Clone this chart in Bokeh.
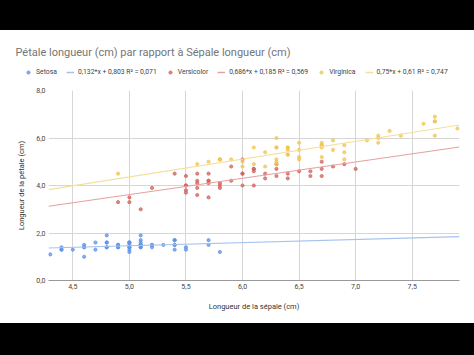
import numpy as np
from bokeh.plotting import figure
from bokeh.models import (Range1d, FixedTicker, CustomJSTickFormatter, Legend,
                          LegendItem, Spacer, Label)
from bokeh.layouts import column
from bokeh.embed import file_html
from bokeh.resources import INLINE

# ---------------- data (iris: sepal length vs petal length) ----------------
setosa_sepal = [5.1, 4.9, 4.7, 4.6, 5.0, 5.4, 4.6, 5.0, 4.4, 4.9, 5.4, 4.8, 4.8, 4.3, 5.8,
                5.7, 5.4, 5.1, 5.7, 5.1, 5.4, 5.1, 4.6, 5.1, 4.8, 5.0, 5.0, 5.2, 5.2, 4.7,
                4.8, 5.4, 5.2, 5.5, 4.9, 5.0, 5.5, 4.9, 4.4, 5.1, 5.0, 4.5, 4.4, 5.0, 5.1,
                4.8, 5.1, 4.6, 5.3, 5.0]
setosa_petal = [1.4, 1.4, 1.3, 1.5, 1.4, 1.7, 1.4, 1.5, 1.4, 1.5, 1.5, 1.6, 1.4, 1.1, 1.2,
                1.5, 1.3, 1.4, 1.7, 1.5, 1.7, 1.5, 1.0, 1.7, 1.9, 1.6, 1.6, 1.5, 1.4, 1.6,
                1.6, 1.5, 1.5, 1.4, 1.5, 1.2, 1.3, 1.4, 1.3, 1.5, 1.3, 1.3, 1.3, 1.6, 1.9,
                1.4, 1.6, 1.4, 1.5, 1.4]
versicolor_sepal = [7.0, 6.4, 6.9, 5.5, 6.5, 5.7, 6.3, 4.9, 6.6, 5.2, 5.0, 5.9, 6.0, 6.1, 5.6,
                    6.7, 5.6, 5.8, 6.2, 5.6, 5.9, 6.1, 6.3, 6.1, 6.4, 6.6, 6.8, 6.7, 6.0, 5.7,
                    5.5, 5.5, 5.8, 6.0, 5.4, 6.0, 6.7, 6.3, 5.6, 5.5, 5.5, 6.1, 5.8, 5.0, 5.6,
                    5.7, 5.7, 6.2, 5.1, 5.7]
versicolor_petal = [4.7, 4.5, 4.9, 4.0, 4.6, 4.5, 4.7, 3.3, 4.6, 3.9, 3.5, 4.2, 4.0, 4.7, 3.6,
                    4.4, 4.5, 4.1, 4.5, 3.9, 4.8, 4.0, 4.9, 4.7, 4.3, 4.4, 4.8, 5.0, 4.5, 3.5,
                    3.8, 3.7, 3.9, 5.1, 4.5, 4.5, 4.7, 4.4, 4.1, 4.0, 4.4, 4.6, 4.0, 3.3, 4.2,
                    4.2, 4.2, 4.3, 3.0, 4.1]
virginica_sepal = [6.3, 5.8, 7.1, 6.3, 6.5, 7.6, 4.9, 7.3, 6.7, 7.2, 6.5, 6.4, 6.8, 5.7, 5.8,
                   6.4, 6.5, 7.7, 7.7, 6.0, 6.9, 5.6, 7.7, 6.3, 6.7, 7.2, 6.2, 6.1, 6.4, 7.2,
                   7.4, 7.9, 6.4, 6.3, 6.1, 7.7, 6.3, 6.4, 6.0, 6.9, 6.7, 6.9, 5.8, 6.8, 6.7,
                   6.7, 6.3, 6.5, 6.2, 5.9]
virginica_petal = [6.0, 5.1, 5.9, 5.6, 5.8, 6.6, 4.5, 6.3, 5.8, 6.1, 5.1, 5.3, 5.5, 5.0, 5.1,
                   5.3, 5.5, 6.7, 6.9, 5.0, 5.7, 4.9, 6.7, 4.9, 5.7, 6.0, 4.8, 4.9, 5.6, 5.8,
                   6.1, 6.4, 5.6, 5.1, 5.6, 6.1, 5.6, 5.5, 4.8, 5.4, 5.6, 5.1, 5.1, 5.9, 5.7,
                   5.2, 5.0, 5.2, 5.4, 5.1]

species = ["Setosa", "Versicolor", "Virginica"]
trend_labels = ["0,132*x + 0,803 R² = 0,071",
                "0,686*x + 0,185 R² = 0,569",
                "0,75*x + 0,61 R² = 0,747"]
title_text = "Pétale longueur (cm) par rapport à Sépale longueur (cm)"
x_ticks = [4.5, 5.0, 5.5, 6.0, 6.5, 7.0, 7.5]
y_ticks = [0, 2, 4, 6, 8]

series_x = [setosa_sepal, versicolor_sepal, virginica_sepal]
series_y = [setosa_petal, versicolor_petal, virginica_petal]
point_colors = ["#5f91e6", "#d0635f", "#f0c452"]
line_colors = ["#a6c2ef", "#e6a19d", "#f4e09a"]

FONT = "Roboto"
X0, X1 = 4.285, 7.918

# ---------------- header: title + legend ----------------
head = figure(width=474, height=52, output_backend="svg", toolbar_location=None,
              x_range=Range1d(0, 1), y_range=Range1d(0, 1),
              x_axis_type=None, y_axis_type=None, min_border=0)
head.frame_align = False
head.grid.visible = False
head.outline_line_color = None
head.border_fill_color = "white"
head.add_layout(Label(x=15, y=30, x_units="screen", y_units="screen",
                      text=title_text, text_font=FONT, text_font_size="11px",
                      text_color="#757575", text_baseline="middle"))

# ---------------- main chart ----------------
p = figure(width=474, height=241, output_backend="svg", toolbar_location=None,
           x_range=Range1d(X0, X1), y_range=Range1d(0, 8),
           min_border_left=48, min_border_right=15, min_border_bottom=43,
           min_border_top=8)
p.frame_align = False
p.border_fill_color = "white"
p.outline_line_color = None
p.background_fill_color = "white"

items = []
for xs, ys, name, tl, pc, lc in zip(series_x, series_y, species, trend_labels,
                                    point_colors, line_colors):
    p.scatter(xs, ys, size=3.2, color=pc, alpha=0.75)
    slope, intercept = np.polyfit(xs, ys, 1)
    lx = [X0, X1]
    ly = [slope * X0 + intercept, slope * X1 + intercept]
    p.line(lx, ly, line_color=lc, line_width=1.1)
    # legend proxies in the header (outside its visible range)
    hr = head.scatter(xs[:1], ys[:1], size=6.5, color=pc, alpha=0.75)
    hl = head.line(xs[:2], ys[:2], line_color=lc, line_width=1.5)
    items.append(LegendItem(label=name, renderers=[hr]))
    items.append(LegendItem(label=tl, renderers=[hl]))

legend = Legend(items=items, orientation="horizontal", location=(24, 4),
                label_text_font=FONT, label_text_font_size="6.8px",
                label_text_color="#444444", glyph_width=8, glyph_height=12,
                spacing=9, label_standoff=4, padding=0, margin=0,
                border_line_color=None, background_fill_alpha=0)
head.add_layout(legend, "center")

# axes
p.xaxis.ticker = FixedTicker(ticks=x_ticks)
p.yaxis.ticker = FixedTicker(ticks=y_ticks)
p.xaxis.formatter = CustomJSTickFormatter(code="return tick.toFixed(1).replace('.', ',');")
p.yaxis.formatter = CustomJSTickFormatter(code="return tick.toFixed(1).replace('.', ',');")
for ax in (p.xaxis, p.yaxis):
    ax.major_tick_line_color = None
    ax.minor_tick_line_color = None
    ax.major_label_text_font = FONT
    ax.major_label_text_font_size = "7px"
    ax.major_label_text_color = "#444444"
    ax.axis_label_text_font = FONT
    ax.axis_label_text_font_size = "7.5px"
    ax.axis_label_text_font_style = "normal"
    ax.axis_label_text_color = "#333333"
p.xaxis.axis_line_color = "#999999"
p.yaxis.axis_line_color = None
p.xaxis.major_label_standoff = -3
p.yaxis.major_label_standoff = -3
p.xaxis.axis_label = "Longueur de la sépale (cm)"
p.yaxis.axis_label = "Longueur de la pétale (cm)"
p.xaxis.axis_label_standoff = 10
p.yaxis.axis_label_standoff = 7

p.xgrid.grid_line_color = "#d6d6d6"
p.ygrid.grid_line_color = "#d6d6d6"
p.xgrid.ticker = FixedTicker(ticks=x_ticks)
p.ygrid.ticker = FixedTicker(ticks=y_ticks)

top = Spacer(width=474, height=30, styles={"background-color": "black"})
bottom = Spacer(width=474, height=32, styles={"background-color": "black"})
layout = column(top, head, p, bottom, spacing=0)

open("out.html", "w").write(file_html(layout, INLINE))
